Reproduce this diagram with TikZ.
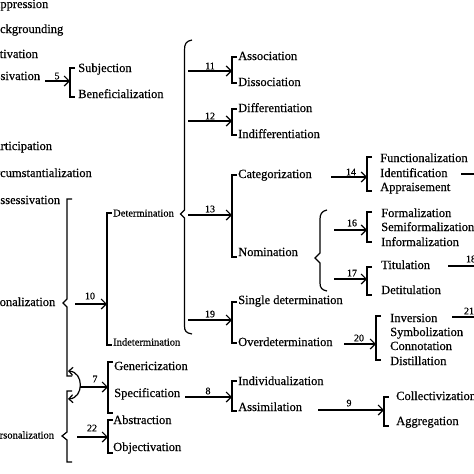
\documentclass[tikz,border=0pt]{standalone}
\usepackage{fontspec}
\setmainfont{Liberation Serif}[FakeBold=0.4]
\usetikzlibrary{arrows.meta}
\tikzset{
  lbl/.style={font=\fontsize{12.5}{14}\selectfont, anchor=west, inner sep=0pt, text height=8.5pt, text depth=2.5pt},
  sml/.style={font=\fontsize{10.5}{12}\selectfont, anchor=west, inner sep=0pt, text height=7pt, text depth=2pt},
  num/.style={font=\fontsize{10}{11}\selectfont, inner sep=0pt},
  arr/.style={line width=1.2pt, -{Straight Barb[length=5pt,width=10pt]}},
  brk/.style={line width=1.2pt},
  lin/.style={line width=1.2pt}
}
\begin{document}
\begin{tikzpicture}[x=1pt,y=-1pt]
\useasboundingbox (0,0) rectangle (474,474);
\fill[white] (0,0) rectangle (474,474);
\clip (0,0) rectangle (474,474);
% left column
\node[lbl] (supp) at (-13,5) {Suppression};
\node[lbl] (back) at (-14,30) {Backgrounding};
\node[lbl] (act) at (-15,55) {Activation};
\node[lbl] (pass) at (-17,77) {Passivation};
\node[lbl] (subj) at (78,69) {Subjection};
\node[lbl] (bene) at (78,95) {Beneficialization};
\node[lbl] (part) at (-12,147) {Participation};
\node[lbl] (circ) at (-16,174) {Circumstantialization};
\node[lbl] (poss) at (-13,201) {Possessivation};
\node[lbl] (pers) at (-22,303) {Personalization};
\node[sml] (imp) at (-22,436) {Impersonalization};
% level 2
\node[sml] (det) at (113,214) {Determination};
\node[sml] (indet) at (113,343) {Indetermination};
\node[lbl] (gen) at (114,367) {Genericization};
\node[lbl] (spec) at (114,394) {Specification};
\node[lbl] (abs) at (113,421) {Abstraction};
\node[lbl] (obj) at (113,448) {Objectivation};
% level 3
\node[lbl] (assoc) at (238,57) {Association};
\node[lbl] (dissoc) at (238,83) {Dissociation};
\node[lbl] (diff) at (238,109) {Differentiation};
\node[lbl] (indiff) at (238,135) {Indifferentiation};
\node[lbl] (cat) at (238,175) {Categorization};
\node[lbl] (nom) at (238,253) {Nomination};
\node[lbl] (single) at (238,301) {Single determination};
\node[lbl] (over) at (238,343) {Overdetermination};
\node[lbl] (indiv) at (238,382) {Individualization};
\node[lbl] (assim) at (238,408) {Assimilation};
% level 4
\node[lbl] (func) at (380,159) {Functionalization};
\node[lbl] (ident) at (380,174) {Identification};
\node[lbl] (appr) at (380,188) {Appraisement};
\node[lbl] (form) at (381,214) {Formalization};
\node[lbl] (semi) at (381,228) {Semiformalization};
\node[lbl] (inform) at (381,243) {Informalization};
\node[lbl] (tit) at (381,266) {Titulation};
\node[lbl] (detit) at (381,291) {Detitulation};
\node[lbl] (inv) at (390,319) {Inversion};
\node[lbl] (symb) at (390,333) {Symbolization};
\node[lbl] (conn) at (390,347) {Connotation};
\node[lbl] (dist) at (390,362) {Distillation};
\node[lbl] (coll) at (396,397) {Collectivization};
\node[lbl] (aggr) at (396,422) {Aggregation};
% numbers
\node[num] (n5) at (57,76) {5};
\node[num] (n10) at (90,296) {10};
\node[num] (n11) at (210,66) {11};
\node[num] (n12) at (210,116) {12};
\node[num] (n13) at (210,209) {13};
\node[num] (n19) at (210,314) {19};
\node[num] (n7) at (95,379) {7};
\node[num] (n22) at (92,428) {22};
\node[num] (n8) at (208,391) {8};
\node[num] (n9) at (349,403) {9};
\node[num] (n14) at (351,172) {14};
\node[num] (n16) at (352,223) {16};
\node[num] (n17) at (352,273) {17};
\node[num] (n18) at (471,259) {18};
\node[num] (n20) at (359,338) {20};
\node[num] (n21) at (469,311) {21};
% bracket coordinates
\coordinate (b5) at (70,81);
\coordinate (b10) at (107,304);
\coordinate (b11) at (232,71);
\coordinate (b12) at (232,121);
\coordinate (b13) at (232,215);
\coordinate (b19) at (232,320);
\coordinate (b7) at (108,387);
\coordinate (b22) at (108,437);
\coordinate (b8) at (232,397);
\coordinate (b9) at (384,410);
\coordinate (b14) at (367,177);
\coordinate (b16) at (367,230);
\coordinate (b17) at (367,279);
\coordinate (b20) at (376,344);
% arrow starts
\coordinate (s5) at (45,81);
\coordinate (s10) at (75,304);
\coordinate (s11) at (188,71);
\coordinate (s12) at (188,121);
\coordinate (s13) at (188,215);
\coordinate (s19) at (188,320);
\coordinate (s7) at (80,387);
\coordinate (s22) at (77,437);
\coordinate (s8) at (185,397);
\coordinate (s9) at (318,410);
\coordinate (s14) at (331,177);
\coordinate (s16) at (334,230);
\coordinate (s17) at (334,279);
\coordinate (s20) at (344,344);
\coordinate (s15) at (461,174);
\coordinate (e15) at (480,174);
\coordinate (s18) at (448,266);
\coordinate (e18) at (480,266);
\coordinate (s21) at (452,317);
\coordinate (e21) at (480,317);
% arrows
\foreach \k in {5,10,11,12,13,19,7,22,8,9,14,16,17,20}{\draw[arr] (s\k) -- (b\k);}
\draw[lin] (s15) -- (e15);
\draw[lin] (s18) -- (e18);
\draw[lin] (s21) -- (e21);
% square brackets: x, top, bottom
\foreach \x/\t/\b in {70/68/97, 107/213/345, 232/57/83, 232/109/135, 232/175/257, 232/302/343, 108/362/413, 108/420/453, 232/381/411, 384/397/426, 367/157/191, 367/212/242, 367/267/295, 376/316/360}{
  \draw[brk] (\x+5,\t) -- (\x,\t) -- (\x,\b) -- (\x+5,\b);
}
% Personalization brace
\draw[brk] (72,199) -- (67,199) -- (67,299) -- (63,303) -- (67,307) -- (67,376) -- (72,376);
% Impersonalization brace
\draw[brk] (72,391) -- (67,391) -- (67,432) -- (62,436) -- (67,440) -- (67,462) -- (72,462);
% connecting arc
\draw[brk, {Straight Barb[length=4pt,width=8pt]}-{Straight Barb[length=4pt,width=8pt]}] (68,371) .. controls (84,372) and (84,398) .. (68,399);
% Determination big brace
\draw[brk] (192,40) .. controls (186,41) and (184.5,44) .. (184.5,50) -- (184.5,210) -- (180.5,214) -- (184.5,218) -- (184.5,326) .. controls (184.5,331) and (186,333) .. (192,334);
% Nomination brace
\draw[brk] (327,210) .. controls (322,211) and (320,214) .. (320,219) -- (320,253) -- (315,258) -- (320,263) -- (320,283) .. controls (320,288) and (322,290) .. (327,291);
\end{tikzpicture}
\end{document}
